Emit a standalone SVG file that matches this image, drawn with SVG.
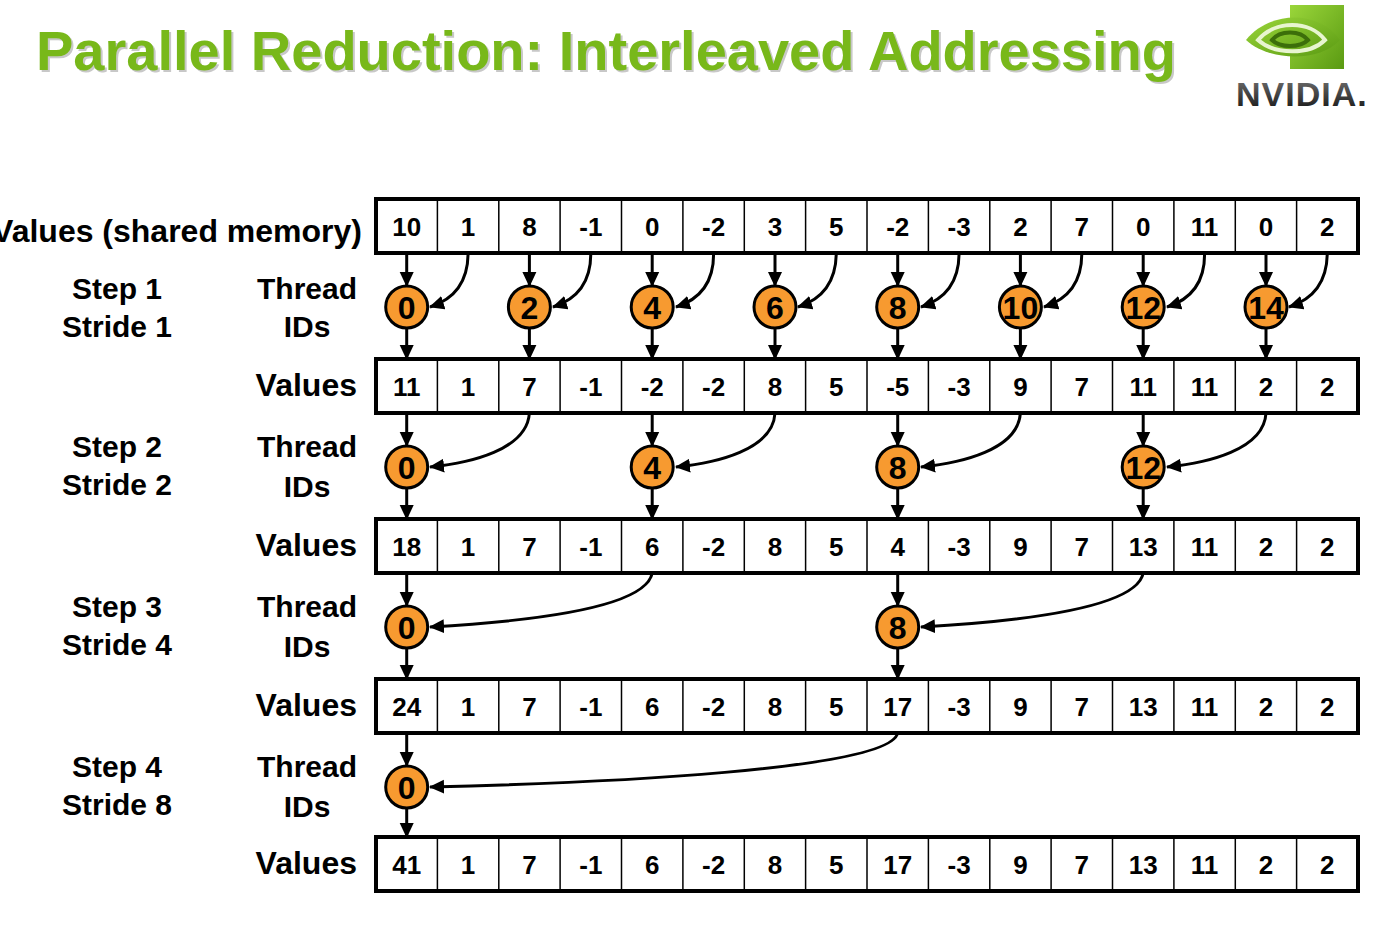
<svg xmlns="http://www.w3.org/2000/svg" width="1378" height="944" viewBox="0 0 1378 944">
<defs>
<marker id="ah" markerUnits="userSpaceOnUse" markerWidth="16" markerHeight="16" refX="14" refY="8" orient="auto"><path d="M0,1 L15,8 L0,15 Z" fill="#000"/></marker>
<linearGradient id="lg" x1="0" y1="0" x2="1" y2="1"><stop offset="0" stop-color="#9ad63a"/><stop offset="1" stop-color="#5a9a12"/></linearGradient>
<linearGradient id="tg" x1="0" y1="0" x2="0" y2="1"><stop offset="0" stop-color="#777"/><stop offset="1" stop-color="#111"/></linearGradient>
<path id="dv" d="M437.4 0v54M498.8 0v54M560.1 0v54M621.5 0v54M682.9 0v54M744.3 0v54M805.6 0v54M867 0v54M928.4 0v54M989.8 0v54M1051.1 0v54M1112.5 0v54M1173.9 0v54M1235.3 0v54M1296.6 0v54" stroke="#000" stroke-width="1.5"/>
</defs>
<style>
text{font-family:"Liberation Sans",Arial,sans-serif;font-weight:bold}
.v{font-size:26px;text-anchor:middle}
.lbl{font-size:30px;text-anchor:middle}
.val{font-size:32px;text-anchor:end}
.outer{fill:#fff;stroke:#000;stroke-width:4}
.c{fill:#f79a30;stroke:#000;stroke-width:3}
.ct{font-size:32px;text-anchor:middle}
.a{fill:none;stroke:#000;stroke-width:3;marker-end:url(#ah)}
</style>
<rect width="1378" height="944" fill="#fff"/>
<text x="38" y="72" font-size="55" fill="#c8c8c8" textLength="1140" lengthAdjust="spacingAndGlyphs">Parallel Reduction: Interleaved Addressing</text>
<text x="36" y="70" font-size="55" fill="#78b81a" textLength="1140" lengthAdjust="spacingAndGlyphs">Parallel Reduction: Interleaved Addressing</text>
<g id="logo">
<rect x="1290" y="5" width="54" height="64" fill="url(#lg)"/>
<path d="M1246 40 C1270 10 1320 10 1340 40 C1320 62 1270 62 1246 40 Z" fill="url(#lg)"/>
<path d="M1258 40 C1275 20 1310 20 1325 40 C1310 55 1275 55 1258 40 Z" fill="none" stroke="#e8f5d0" stroke-width="4"/>
<path d="M1272 40 C1280 30 1300 30 1308 40 C1300 48 1280 48 1272 40 Z" fill="none" stroke="#3c6e0a" stroke-width="4"/>
<text x="1236" y="106" font-size="34" fill="url(#tg)" style="font-weight:900" letter-spacing="1">NVIDIA.</text>
</g>
<g id="labels">
<text class="val" x="362" y="242">Values (shared memory)</text>
<text class="lbl" x="117" y="299">Step 1</text><text class="lbl" x="117" y="337">Stride 1</text>
<text class="lbl" x="307" y="299">Thread</text><text class="lbl" x="307" y="337">IDs</text>
<text class="val" x="357" y="396">Values</text>
<text class="lbl" x="117" y="457">Step 2</text><text class="lbl" x="117" y="495">Stride 2</text>
<text class="lbl" x="307" y="457">Thread</text><text class="lbl" x="307" y="497">IDs</text>
<text class="val" x="357" y="556">Values</text>
<text class="lbl" x="117" y="617">Step 3</text><text class="lbl" x="117" y="655">Stride 4</text>
<text class="lbl" x="307" y="617">Thread</text><text class="lbl" x="307" y="657">IDs</text>
<text class="val" x="357" y="716">Values</text>
<text class="lbl" x="117" y="777">Step 4</text><text class="lbl" x="117" y="815">Stride 8</text>
<text class="lbl" x="307" y="777">Thread</text><text class="lbl" x="307" y="817">IDs</text>
<text class="val" x="357" y="874">Values</text>
</g>
<g id="row0" transform="translate(0,199)"><rect class="outer" x="376" y="0" width="982" height="54"/><use href="#dv"/>
<text class="v" y="37"><tspan x="406.7">10</tspan><tspan x="468.1">1</tspan><tspan x="529.4">8</tspan><tspan x="590.8">-1</tspan><tspan x="652.2">0</tspan><tspan x="713.6">-2</tspan><tspan x="775">3</tspan><tspan x="836.3">5</tspan><tspan x="897.7">-2</tspan><tspan x="959.1">-3</tspan><tspan x="1020.4">2</tspan><tspan x="1081.8">7</tspan><tspan x="1143.2">0</tspan><tspan x="1204.6">11</tspan><tspan x="1266">0</tspan><tspan x="1327.3">2</tspan></text></g>
<g id="row1" transform="translate(0,359)"><rect class="outer" x="376" y="0" width="982" height="54"/><use href="#dv"/>
<text class="v" y="37"><tspan x="406.7">11</tspan><tspan x="468.1">1</tspan><tspan x="529.4">7</tspan><tspan x="590.8">-1</tspan><tspan x="652.2">-2</tspan><tspan x="713.6">-2</tspan><tspan x="775">8</tspan><tspan x="836.3">5</tspan><tspan x="897.7">-5</tspan><tspan x="959.1">-3</tspan><tspan x="1020.4">9</tspan><tspan x="1081.8">7</tspan><tspan x="1143.2">11</tspan><tspan x="1204.6">11</tspan><tspan x="1266">2</tspan><tspan x="1327.3">2</tspan></text></g>
<g id="row2" transform="translate(0,519)"><rect class="outer" x="376" y="0" width="982" height="54"/><use href="#dv"/>
<text class="v" y="37"><tspan x="406.7">18</tspan><tspan x="468.1">1</tspan><tspan x="529.4">7</tspan><tspan x="590.8">-1</tspan><tspan x="652.2">6</tspan><tspan x="713.6">-2</tspan><tspan x="775">8</tspan><tspan x="836.3">5</tspan><tspan x="897.7">4</tspan><tspan x="959.1">-3</tspan><tspan x="1020.4">9</tspan><tspan x="1081.8">7</tspan><tspan x="1143.2">13</tspan><tspan x="1204.6">11</tspan><tspan x="1266">2</tspan><tspan x="1327.3">2</tspan></text></g>
<g id="row3" transform="translate(0,679)"><rect class="outer" x="376" y="0" width="982" height="54"/><use href="#dv"/>
<text class="v" y="37"><tspan x="406.7">24</tspan><tspan x="468.1">1</tspan><tspan x="529.4">7</tspan><tspan x="590.8">-1</tspan><tspan x="652.2">6</tspan><tspan x="713.6">-2</tspan><tspan x="775">8</tspan><tspan x="836.3">5</tspan><tspan x="897.7">17</tspan><tspan x="959.1">-3</tspan><tspan x="1020.4">9</tspan><tspan x="1081.8">7</tspan><tspan x="1143.2">13</tspan><tspan x="1204.6">11</tspan><tspan x="1266">2</tspan><tspan x="1327.3">2</tspan></text></g>
<g id="row4" transform="translate(0,837)"><rect class="outer" x="376" y="0" width="982" height="54"/><use href="#dv"/>
<text class="v" y="37"><tspan x="406.7">41</tspan><tspan x="468.1">1</tspan><tspan x="529.4">7</tspan><tspan x="590.8">-1</tspan><tspan x="652.2">6</tspan><tspan x="713.6">-2</tspan><tspan x="775">8</tspan><tspan x="836.3">5</tspan><tspan x="897.7">17</tspan><tspan x="959.1">-3</tspan><tspan x="1020.4">9</tspan><tspan x="1081.8">7</tspan><tspan x="1143.2">13</tspan><tspan x="1204.6">11</tspan><tspan x="1266">2</tspan><tspan x="1327.3">2</tspan></text></g>
<g id="connectors">
<path class="a" d="M406.7 253V286"/><path class="a" d="M529.4 253V286"/><path class="a" d="M652.2 253V286"/><path class="a" d="M775 253V286"/><path class="a" d="M897.7 253V286"/><path class="a" d="M1020.4 253V286"/><path class="a" d="M1143.2 253V286"/><path class="a" d="M1266 253V286"/>
<path class="a" d="M406.7 328V359"/><path class="a" d="M529.4 328V359"/><path class="a" d="M652.2 328V359"/><path class="a" d="M775 328V359"/><path class="a" d="M897.7 328V359"/><path class="a" d="M1020.4 328V359"/><path class="a" d="M1143.2 328V359"/><path class="a" d="M1266 328V359"/>
<path class="a" d="M468.1 253C468 285 452 300 430 307"/>
<path class="a" d="M590.8 253C591 285 575 300 553 307"/>
<path class="a" d="M713.6 253C714 285 698 300 676 307"/>
<path class="a" d="M836.3 253C836 285 820 300 798 307"/>
<path class="a" d="M959.1 253C959 285 943 300 921 307"/>
<path class="a" d="M1081.8 253C1082 285 1066 300 1044 307"/>
<path class="a" d="M1204.6 253C1205 285 1189 300 1167 307"/>
<path class="a" d="M1327.3 253C1327 285 1311 300 1289 307"/>
<path class="a" d="M406.7 413V446"/><path class="a" d="M652.2 413V446"/><path class="a" d="M897.7 413V446"/><path class="a" d="M1143.2 413V446"/>
<path class="a" d="M406.7 488V519"/><path class="a" d="M652.2 488V519"/><path class="a" d="M897.7 488V519"/><path class="a" d="M1143.2 488V519"/>
<path class="a" d="M529.4 413C527 450 470 463 430 467"/>
<path class="a" d="M775 413C773 450 716 463 676 467"/>
<path class="a" d="M1020.4 413C1018 450 961 463 921 467"/>
<path class="a" d="M1266 413C1264 450 1207 463 1167 467"/>
<path class="a" d="M406.7 573V606"/><path class="a" d="M897.7 573V606"/><path class="a" d="M406.7 648V679"/><path class="a" d="M897.7 648V679"/>
<path class="a" d="M652.2 573C645 612 500 623 430 627"/>
<path class="a" d="M1143.2 573C1136 612 991 623 921 627"/>
<path class="a" d="M406.7 733V766"/><path class="a" d="M406.7 808V837"/>
<path class="a" d="M897.7 733C890 770 600 783 430 787"/>
</g>
<g id="threads">
<g><circle class="c" cx="406.7" cy="307" r="21"/><text class="ct" x="406.7" y="319">0</text></g>
<g><circle class="c" cx="529.4" cy="307" r="21"/><text class="ct" x="529.4" y="319">2</text></g>
<g><circle class="c" cx="652.2" cy="307" r="21"/><text class="ct" x="652.2" y="319">4</text></g>
<g><circle class="c" cx="775" cy="307" r="21"/><text class="ct" x="775" y="319">6</text></g>
<g><circle class="c" cx="897.7" cy="307" r="21"/><text class="ct" x="897.7" y="319">8</text></g>
<g><circle class="c" cx="1020.4" cy="307" r="21"/><text class="ct" x="1020.4" y="319">10</text></g>
<g><circle class="c" cx="1143.2" cy="307" r="21"/><text class="ct" x="1143.2" y="319">12</text></g>
<g><circle class="c" cx="1266" cy="307" r="21"/><text class="ct" x="1266" y="319">14</text></g>
<g><circle class="c" cx="406.7" cy="467" r="21"/><text class="ct" x="406.7" y="479">0</text></g>
<g><circle class="c" cx="652.2" cy="467" r="21"/><text class="ct" x="652.2" y="479">4</text></g>
<g><circle class="c" cx="897.7" cy="467" r="21"/><text class="ct" x="897.7" y="479">8</text></g>
<g><circle class="c" cx="1143.2" cy="467" r="21"/><text class="ct" x="1143.2" y="479">12</text></g>
<g><circle class="c" cx="406.7" cy="627" r="21"/><text class="ct" x="406.7" y="639">0</text></g>
<g><circle class="c" cx="897.7" cy="627" r="21"/><text class="ct" x="897.7" y="639">8</text></g>
<g><circle class="c" cx="406.7" cy="787" r="21"/><text class="ct" x="406.7" y="799">0</text></g>
</g>
</svg>
